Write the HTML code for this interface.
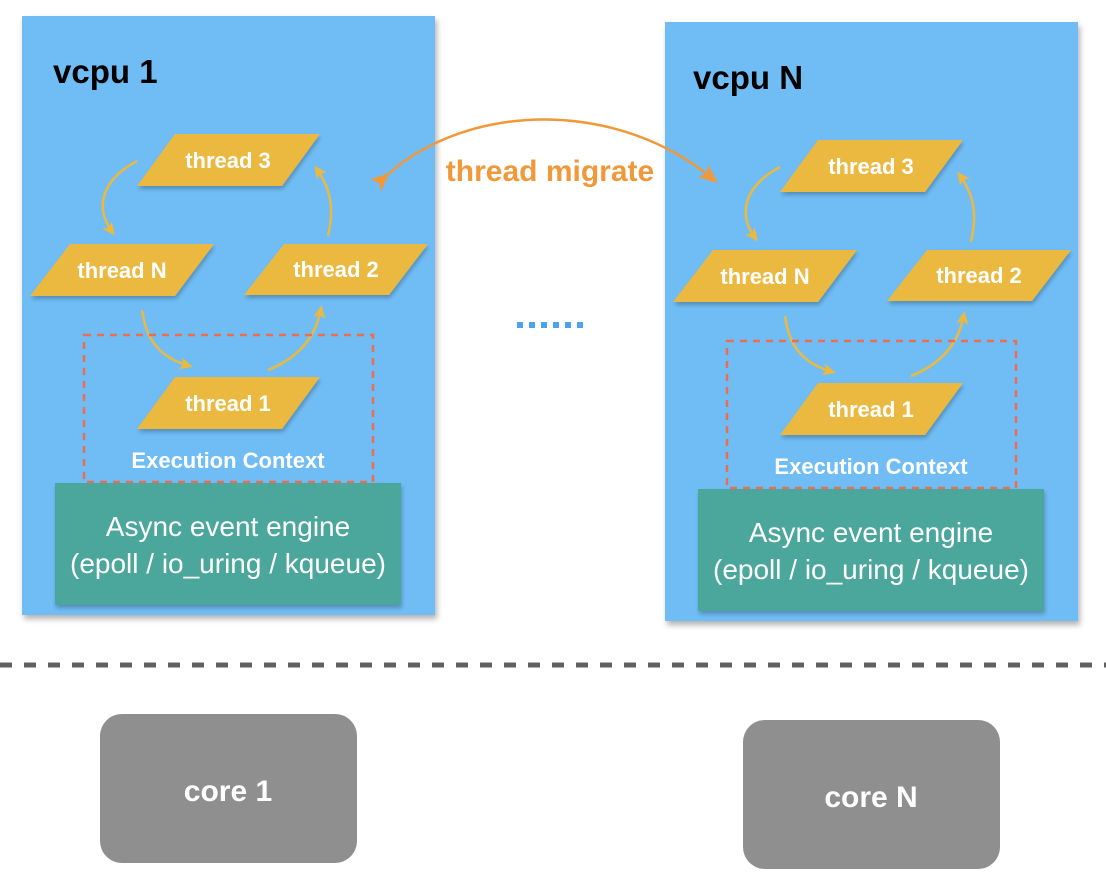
<!DOCTYPE html>
<html><head><meta charset="utf-8"><style>
html,body{margin:0;padding:0;background:#fff;}
svg{display:block;}
text{font-family:"Liberation Sans",Arial,sans-serif;}
</style></head><body>
<svg width="1106" height="884" viewBox="0 0 1106 884" xmlns="http://www.w3.org/2000/svg">
<defs>
<filter id="sh" x="-10%" y="-10%" width="130%" height="130%"><feDropShadow dx="2" dy="4" stdDeviation="3" flood-color="#000" flood-opacity="0.3"/></filter>
<filter id="sh2" x="-10%" y="-10%" width="130%" height="130%"><feDropShadow dx="1" dy="3" stdDeviation="2" flood-color="#000" flood-opacity="0.25"/></filter>
<marker id="ay" markerWidth="14" markerHeight="14" refX="10" refY="7" orient="auto" markerUnits="userSpaceOnUse"><path d="M0,1 L13,7 L0,13 L3,7 Z" fill="#ecb93f"/></marker>
<marker id="ao" markerWidth="20" markerHeight="20" refX="14" refY="10" orient="auto" markerUnits="userSpaceOnUse"><path d="M0,2 L19,10 L0,18 L4,10 Z" fill="#f0983a"/></marker>
</defs>
<g>
<rect x="22" y="16" width="413" height="599" fill="#6fbdf6" filter="url(#sh)"/>
<text x="53" y="83" font-size="33" font-weight="bold" fill="#000">vcpu 1</text>
<g fill="#ecb93f" filter="url(#sh2)">
<polygon points="175,134 320,134 282,186 137,186"/>
<polygon points="70,244 214,244 175,296 30,296"/>
<polygon points="284,244 428,244 389,295 244,295"/>
<polygon points="175,377 320,377 282,429 137,429"/>
</g>
<g fill="#fff" font-size="22" font-weight="bold" text-anchor="middle">
<text x="228" y="168">thread 3</text>
<text x="122" y="278">thread N</text>
<text x="336" y="277">thread 2</text>
<text x="228" y="411">thread 1</text>
</g>
<g fill="none" stroke="#ecb93f" stroke-width="2.5">
<path d="M137,161 C105,178 92,205 113,233" marker-end="url(#ay)"/>
<path d="M142,310 C146,340 160,358 190,366" marker-end="url(#ay)"/>
<path d="M268,370 C298,358 316,338 321,308" marker-end="url(#ay)"/>
<path d="M328,236 C334,210 332,190 316,168" marker-end="url(#ay)"/>
</g>
<rect x="84" y="335" width="289" height="147" fill="none" stroke="#ee6d4f" stroke-width="2.5" stroke-dasharray="7,6"/>
<text x="228" y="468" font-size="22" font-weight="bold" fill="#fff" text-anchor="middle">Execution Context</text>
<rect x="55" y="483" width="346" height="122" fill="#4ba69b" filter="url(#sh2)"/>
<g fill="#fff" font-size="28" text-anchor="middle">
<text x="228" y="536">Async event engine</text>
<text x="228" y="573">(epoll / io_uring / kqueue)</text>
</g>
</g>
<g transform="translate(643,6)">
<rect x="22" y="16" width="413" height="599" fill="#6fbdf6" filter="url(#sh)"/>
<text x="50" y="83" font-size="33" font-weight="bold" fill="#000">vcpu N</text>
<g fill="#ecb93f" filter="url(#sh2)">
<polygon points="175,134 320,134 282,186 137,186"/>
<polygon points="70,244 214,244 175,296 30,296"/>
<polygon points="284,244 428,244 389,295 244,295"/>
<polygon points="175,377 320,377 282,429 137,429"/>
</g>
<g fill="#fff" font-size="22" font-weight="bold" text-anchor="middle">
<text x="228" y="168">thread 3</text>
<text x="122" y="278">thread N</text>
<text x="336" y="277">thread 2</text>
<text x="228" y="411">thread 1</text>
</g>
<g fill="none" stroke="#ecb93f" stroke-width="2.5">
<path d="M137,161 C105,178 92,205 113,233" marker-end="url(#ay)"/>
<path d="M142,310 C146,340 160,358 190,366" marker-end="url(#ay)"/>
<path d="M268,370 C298,358 316,338 321,308" marker-end="url(#ay)"/>
<path d="M328,236 C334,210 332,190 316,168" marker-end="url(#ay)"/>
</g>
<rect x="84" y="335" width="289" height="147" fill="none" stroke="#ee6d4f" stroke-width="2.5" stroke-dasharray="7,6"/>
<text x="228" y="468" font-size="22" font-weight="bold" fill="#fff" text-anchor="middle">Execution Context</text>
<rect x="55" y="483" width="346" height="122" fill="#4ba69b" filter="url(#sh2)"/>
<g fill="#fff" font-size="28" text-anchor="middle">
<text x="228" y="536">Async event engine</text>
<text x="228" y="573">(epoll / io_uring / kqueue)</text>
</g>
</g>
<path d="M386,176 C470,100 620,100 714,180" fill="none" stroke="#f0983a" stroke-width="2.5" marker-end="url(#ao)" marker-start="url(#ao)"/>
<text x="550" y="181" font-size="30" font-weight="bold" fill="#f0983a" text-anchor="middle">thread migrate</text>
<line x1="517" y1="325" x2="584" y2="325" stroke="#4aa3f2" stroke-width="6" stroke-dasharray="6,6"/>
<line x1="0" y1="665" x2="1106" y2="665" stroke="#606060" stroke-width="5" stroke-dasharray="12,12"/>
<rect x="100" y="714" width="257" height="149" rx="22" fill="#8f8f8f"/>
<text x="228" y="801" font-size="30" font-weight="bold" fill="#fff" text-anchor="middle">core 1</text>
<rect x="743" y="720" width="257" height="149" rx="22" fill="#8f8f8f"/>
<text x="871" y="807" font-size="30" font-weight="bold" fill="#fff" text-anchor="middle">core N</text>
</svg>
</body></html>
